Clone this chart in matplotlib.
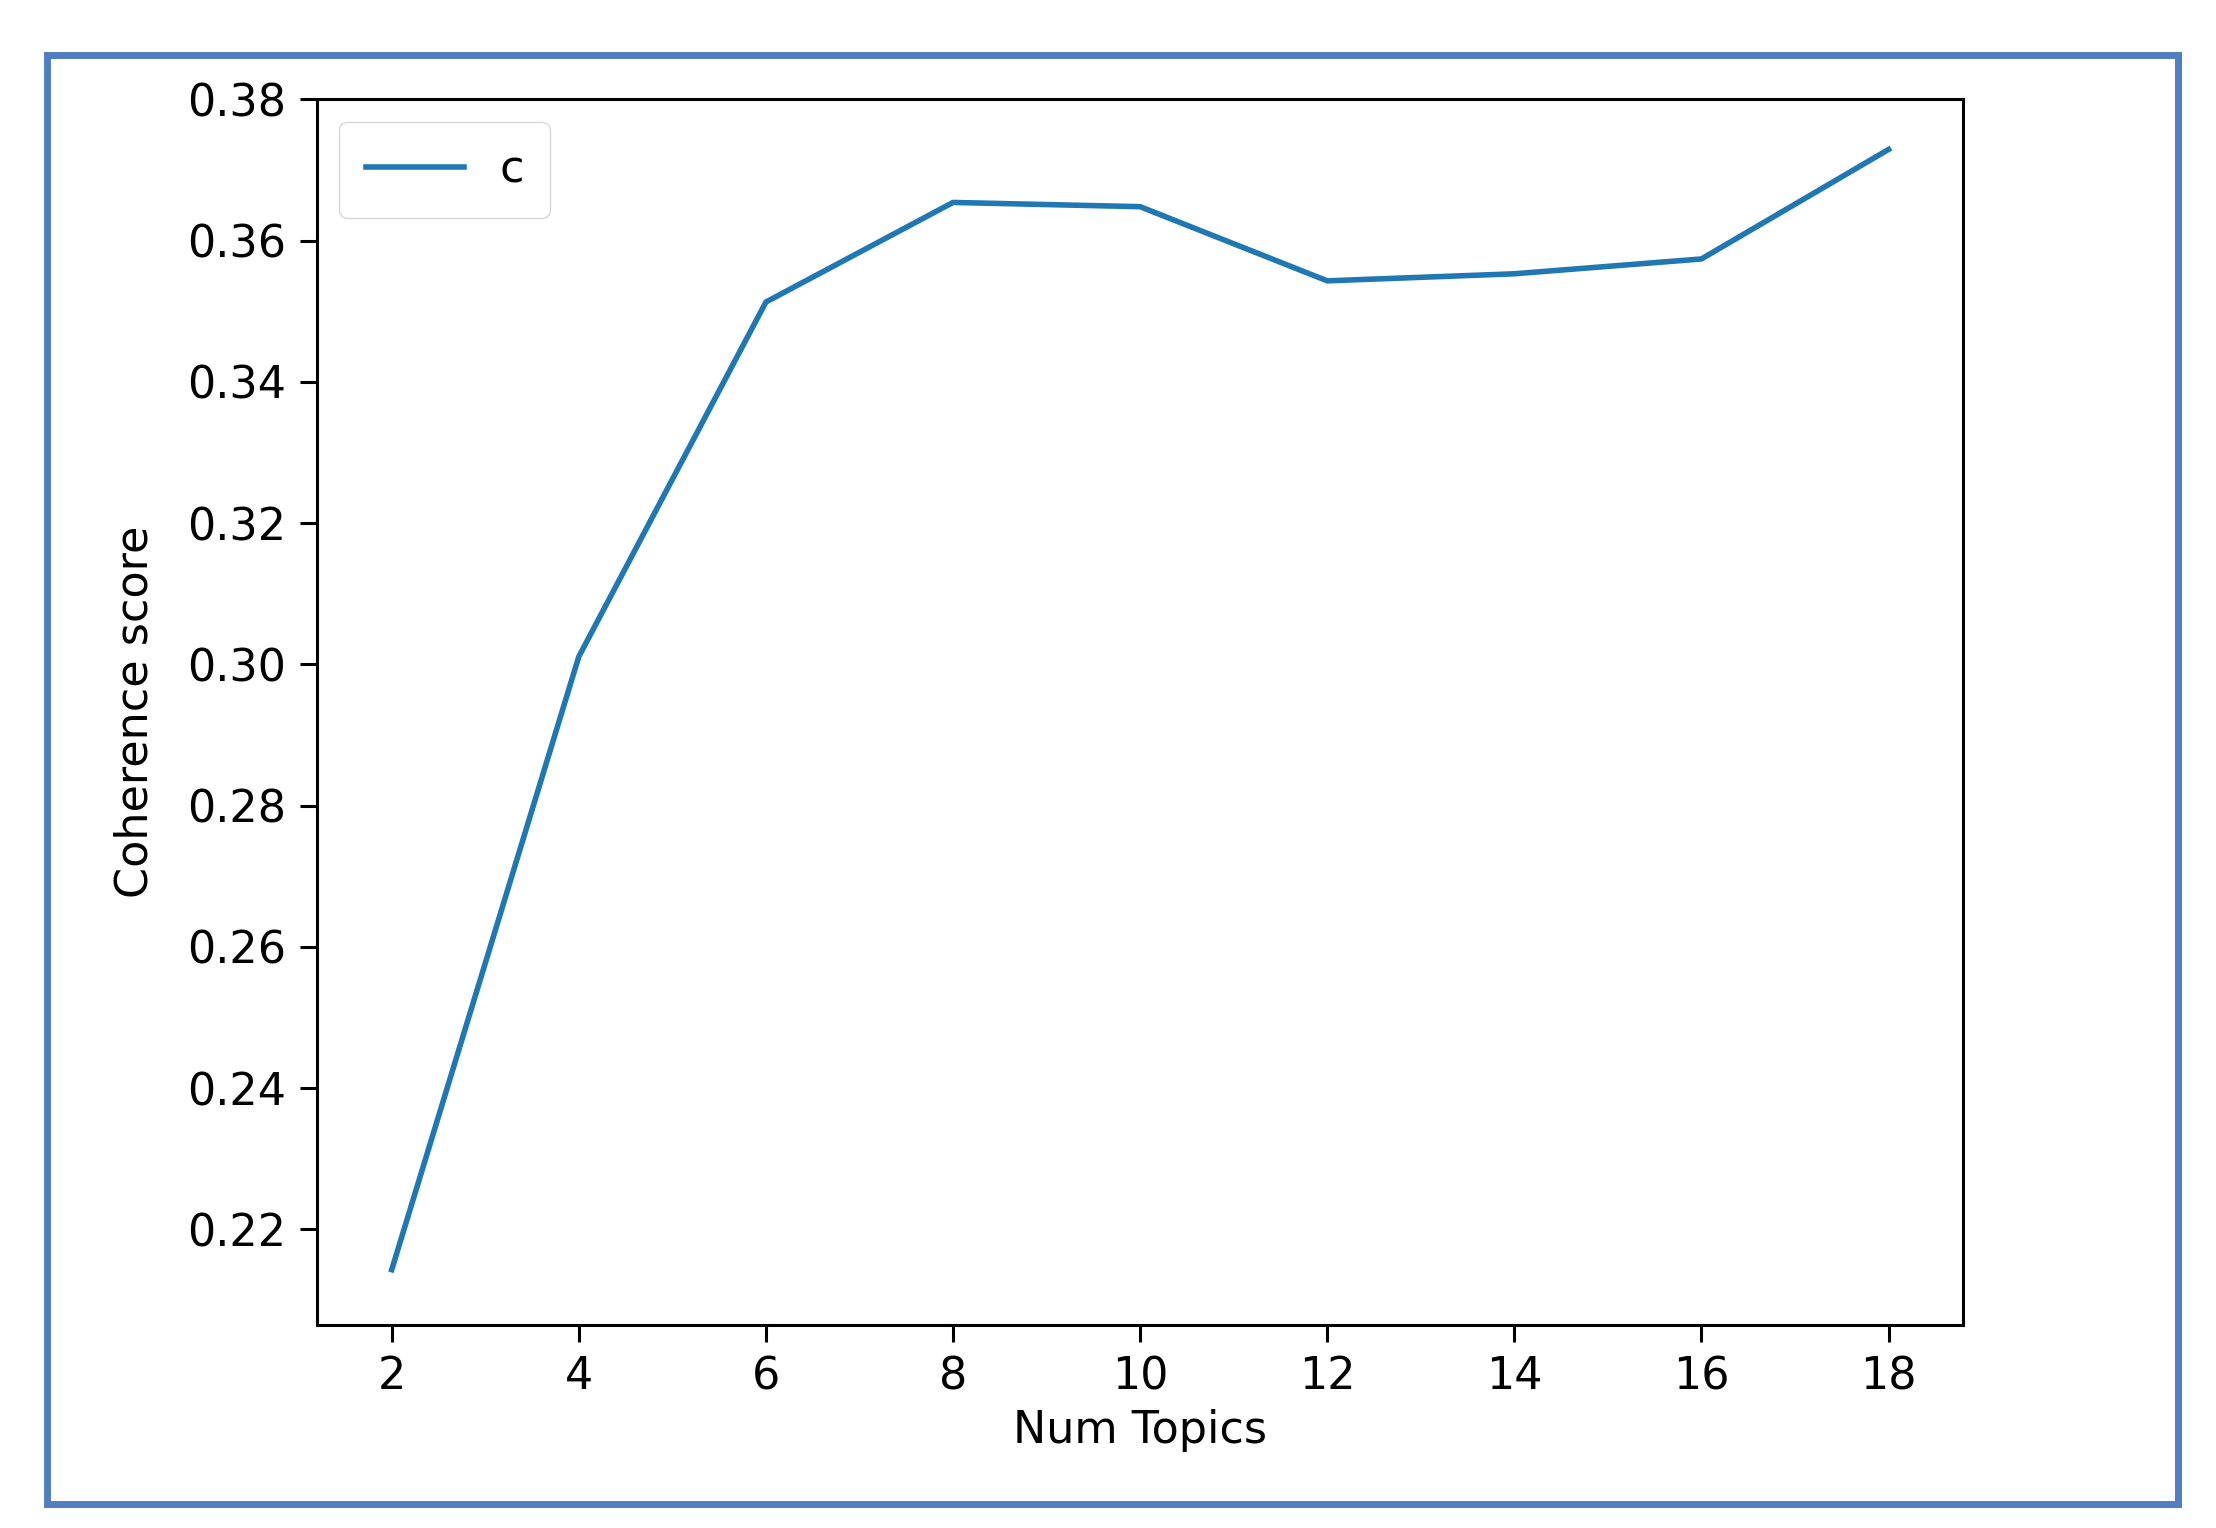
import matplotlib
matplotlib.use("Agg")
import matplotlib.pyplot as plt
from matplotlib.patches import Rectangle

num_topics = [2, 4, 6, 8, 10, 12, 14, 16, 18]
coherence = [0.2143, 0.3011, 0.3513, 0.3654, 0.3648, 0.3543, 0.3553, 0.3574, 0.3729]
series_label = "c"

plt.rcParams['font.family'] = ['DejaVu Sans']
plt.rcParams['font.size'] = 32
fig = plt.figure(figsize=(22.16, 15.28), dpi=100)
ax = fig.add_axes([0.143, 0.133, 0.743, 0.802])
ax.plot(num_topics, coherence, color='#1f77b4', lw=4, label=series_label)
ax.set_ylim(0.2065, 0.38)
ax.set_xticks(num_topics)
ax.set_xlabel("Num Topics", labelpad=8)
ax.set_ylabel("Coherence score", labelpad=22)
for s in ax.spines.values():
    s.set_linewidth(2.2)
ax.tick_params(width=2.2, length=12, pad=10)
ax.legend(loc='upper left', handlelength=2.2, borderpad=0.6)
fig.patches.append(Rectangle((0.021, 0.016), 0.962, 0.948, transform=fig.transFigure,
                             fill=False, edgecolor='#4f7fc0', lw=5))
fig.savefig("out.png", dpi=100)
